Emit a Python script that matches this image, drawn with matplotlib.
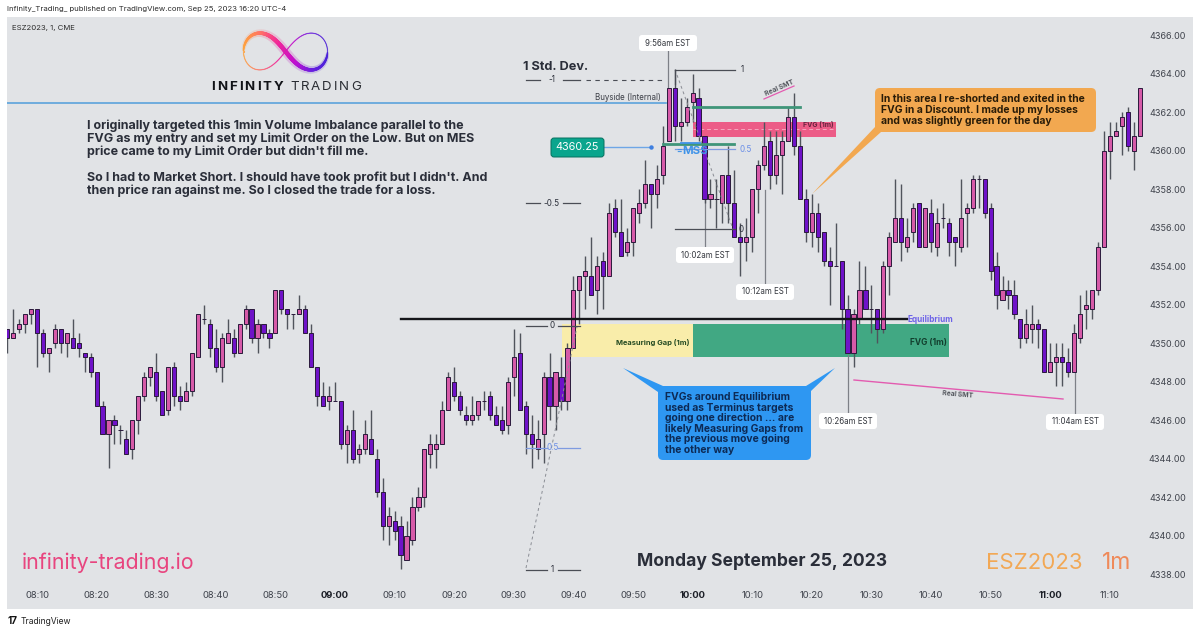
import numpy as np
import matplotlib
matplotlib.use("Agg")
import matplotlib.pyplot as plt
from matplotlib.transforms import Affine2D
from matplotlib.patches import FancyBboxPatch, Polygon, Rectangle
from matplotlib.collections import LineCollection
from matplotlib.colors import LinearSegmentedColormap

plt.rcParams['font.family'] = ['Inter', 'Liberation Sans', 'DejaVu Sans']

# 1-minute ESZ2023 candles, 08:05 to 11:15
opens = [
 4350.75,4350.25,4350.75,4351,4351.5,4351.75,4350.5,4349.5,4350,4350.75,
 4350,4350.25,4350,4349.5,4349.25,4348.5,4346.75,4345.25,4346,4345.5,
 4345,4344.5,4346,4347.25,4348.25,4348.5,4347.5,4346.5,4348.75,4347.25,
 4347,4347.5,4349.25,4351.25,4351,4349.75,4348.75,4350,4350.25,4349.5,
 4351,4351.75,4350.25,4351,4350.5,4350.5,4352.75,4351.75,4351.5,4351.5,
 4351.75,4350.5,4348.75,4347.25,4347,4347,4347,4344.75,4345.5,4344.25,
 4344.5,4345,4344,4342.25,4340.5,4340.75,4340.5,4338.75,4339.75,4341.5,
 4342,4344.25,4344.5,4344.75,4346.5,4348,4347.25,4346.25,4346,4346.25,
 4347,4347.25,4346.25,4346,4345.75,4348.25,4349.5,4346.75,4345.25,4344.5,
 4345.25,4348.25,4346.75,4348.25,4347,4349.75,4352.75,4353.5,4353.5,4352.75,
 4354.25,4353.5,4357,4355.75,4354.75,4355.25,4356.75,4357.25,4358.25,4357.75,
 4358.75,4360.5,4363.25,4361.25,4361.5,4362.5,4362.75,4360.75,4357.5,4357.5,
 4357.25,4358.75,4357.25,4355.5,4355.25,4355.5,4358,4359.25,4360.5,4358.75,
 4359.75,4360.5,4361.75,4360.25,4357.5,4355.75,4356.75,4355.75,4354.25,4354,
 4354.25,4351.75,4349.5,4351.25,4352.75,4351.75,4351.75,4350.75,4354,4355.25,
 4356.5,4355,4355.75,4357.25,4355,4356.75,4355,4356.5,4356.25,4355.5,
 4355,4356.75,4357,4358.5,4358.5,4357,4354,4352.25,4352.75,4352.5,
 4351.25,4350.25,4350.75,4351,4350.75,4348.5,4349,4349.25,4349,4348.5,
 4350.25,4351.75,4351.75,4352.75,4355,4360,4360.75,4361.25,4362,4360,4360.75]
highs = [
 4350.75,4351.75,4351.25,4351.5,4351.75,4351.75,4350.75,4349.75,4351,4350.75,
 4350.5,4351.25,4350.5,4349.5,4349.5,4348.5,4347,4346,4346.25,4345.75,
 4345.5,4346,4347.25,4348.5,4348.75,4349.5,4347.5,4348.75,4349,4347.75,
 4348,4349.5,4351.5,4352,4351.25,4350.75,4350.5,4351.25,4350.75,4351,
 4352,4351.75,4351.25,4351,4350.75,4352.75,4352.75,4351.75,4351.5,4352.5,
 4352,4351,4348.75,4348,4347.75,4348,4347,4345.75,4346.5,4344.75,
 4346,4346.5,4344.5,4343,4341.5,4341.25,4341,4340.75,4342,4342.5,
 4344.5,4345.25,4345.25,4347,4348.5,4348.75,4347.5,4346.75,4347.25,4347,
 4347.5,4347.5,4346.75,4346.75,4348.25,4350.75,4350.5,4347,4346.25,4346,
 4348.5,4349.5,4348.5,4349.25,4350,4353.5,4353.5,4354.5,4355.5,4354.5,
 4354.75,4357.25,4357.5,4357.5,4356,4357,4358,4359.5,4358.25,4359.25,
 4361.25,4363.25,4364.25,4362.75,4362.75,4364,4363.25,4360.75,4358.5,4358.5,
 4358.75,4360.25,4359,4356.25,4356.5,4358,4359.5,4361.5,4361,4361,
 4361,4362.25,4363,4361,4358,4357.75,4357.25,4355.75,4355,4356.25,
 4354.25,4352.5,4351.75,4354.25,4354,4353,4351.75,4354.25,4355.75,4358.5,
 4358.25,4356.5,4357.25,4357.25,4357,4357.5,4357,4357.25,4356.5,4355.5,
 4358.5,4357.25,4358.75,4358.75,4358.5,4357.25,4354.75,4353.5,4353.25,4353.25,
 4351.25,4351.75,4352,4351.25,4350.75,4350,4350,4350,4349.75,4351,
 4352.5,4352.75,4352.75,4355.25,4361,4361.5,4361.5,4362,4362.25,4361.5,4363.25]
lows = [
 4349.5,4350.25,4350.5,4350.5,4351,4348.75,4349.25,4348.5,4349.75,4349.5,
 4349.25,4349.75,4349.25,4348.5,4348.25,4346.75,4345.25,4343.5,4344.75,4344.75,
 4344.25,4344,4345.25,4347,4347.75,4347,4346.25,4346.25,4346.75,4346.5,
 4347,4347.25,4349.25,4351,4349.25,4348.5,4348,4350,4349.25,4349.5,
 4350.75,4350,4349.5,4350.25,4349.75,4350.5,4351.5,4350.75,4350.75,4351.5,
 4350.5,4348.75,4346.75,4346.75,4346.5,4347,4344.5,4343.75,4343.75,4343.75,
 4344.25,4344.25,4342,4339.75,4339.5,4339.75,4338.25,4338.75,4339.5,4341.25,
 4341.5,4343.5,4343.5,4344.75,4346.5,4347,4346.25,4345.75,4345.75,4346,
 4346.5,4346,4345.75,4345.25,4345.25,4347.25,4346.5,4344.25,4343.5,4344,
 4343.75,4346,4345.5,4346.5,4346.5,4349.75,4351,4351.75,4352.5,4351.5,
 4351.75,4353.5,4355.5,4354.5,4354.5,4354.5,4356.25,4357,4356,4357,
 4358.25,4360.5,4360.5,4360.5,4361.25,4361.5,4360.5,4357.25,4357,4356,
 4356.25,4356.25,4355.5,4353.5,4354.25,4354.75,4356.75,4359,4358,4358.25,
 4357.75,4360.5,4359.75,4357.5,4355.25,4355,4354.75,4354,4352,4354,
 4350.75,4349.5,4348.75,4351,4351.75,4350.5,4350,4350.5,4352.5,4355.25,
 4354.25,4354.75,4355.25,4355,4355,4354.75,4354.5,4356,4354.5,4354,
 4354.75,4355,4356.75,4357,4356.5,4353.25,4351.75,4352.25,4351.75,4351.25,
 4349.75,4350,4350,4349.75,4348.5,4348.5,4347.75,4347.75,4348.25,4348.5,
 4350,4350.75,4351.25,4352.5,4355,4358.5,4360.75,4359.75,4360,4359,4360.75]
closes = [
 4350.25,4350.5,4351,4351.5,4351.75,4350.5,4349.5,4349.75,4350.75,4350,
 4350.5,4349.75,4349.75,4349.25,4348.5,4346.75,4345.25,4346,4345.75,4345.5,
 4344.25,4346,4347.25,4348.25,4348.75,4347.25,4346.25,4348.75,4347.25,4347,
 4347.5,4349.5,4351.5,4351.25,4349.75,4348.75,4350.25,4350.5,4349.5,4351,
 4351.75,4350.25,4351,4350.5,4350.25,4352.75,4351.75,4351.5,4351.5,4351.75,
 4350.5,4348.75,4347.25,4346.75,4347.25,4347,4344.75,4345.5,4344,4344.5,
 4345.25,4344.25,4342.25,4340.5,4341,4340.25,4339,4340,4341.5,4342,
 4344.5,4344.75,4344.75,4346.5,4348.25,4347.25,4346.5,4346,4346.25,4347,
 4347,4346.25,4345.75,4345.5,4348,4349.25,4346.5,4345.25,4344.75,4345,
 4348.25,4346.75,4348.5,4347,4349.75,4352.75,4353.5,4353.75,4352.5,4354,
 4353.5,4356.75,4355.75,4354.5,4355.25,4357,4357.25,4358.25,4357.75,4358.5,
 4360.25,4363.25,4361.25,4361.5,4362.25,4363,4360.75,4357.5,4357.75,4357.5,
 4358.75,4357.25,4355.5,4355.25,4355.5,4358,4359.25,4360.25,4358.75,4359.75,
 4360.5,4361.75,4360.25,4357.5,4355.75,4356.75,4355.5,4354.25,4354,4354,
 4351.75,4349.5,4351.5,4352.75,4351.75,4351.75,4350.75,4354,4355.5,4356.5,
 4355.25,4355.5,4357,4355,4357,4355.25,4356.25,4356.5,4355.25,4355.25,
 4356.5,4357,4358.5,4358.5,4356.75,4353.75,4352.5,4352.75,4352.5,4351.5,
 4350.25,4351,4351,4350.75,4348.5,4349,4349.25,4349,4348.5,4350.5,
 4351.5,4352,4352.75,4355,4360,4360.75,4361,4361.75,4360.25,4360.75,4363.25]
assert len(opens) == len(highs) == len(lows) == len(closes) == 191

time_labels = ['08:10','08:20','08:30','08:40','08:50','09:00','09:10','09:20','09:30','09:40',
               '09:50','10:00','10:10','10:20','10:30','10:40','10:50','11:00','11:10']
bold_times = {'09:00', '10:00', '11:00'}
price_ticks = list(range(4338, 4368, 2))

W, H = 1200, 632
fig = plt.figure(figsize=(W/100, H/100), dpi=100, facecolor='white')
L, R, T, B = 7, 1193, 17, 609
ax = fig.add_axes([L/W, 1-B/H, (R-L)/W, (B-T)/H], facecolor='#e1e3e6')
pix = Affine2D().scale(1, -1).translate(0, H)   # reference-pixel coordinates

PX0, PXS = 7.2, 5.96
YPX, YS = 35.0, 19.25
ax.set_xlim((L-PX0)/PXS, (R-PX0)/PXS)
ax.set_ylim(4366-(B-YPX)/YS, 4366+(YPX-T)/YS)
ax.autoscale(False)
for s in ax.spines.values():
    s.set_visible(False)

# axes
ax.yaxis.tick_right()
ax.set_yticks(price_ticks, [f'{p:.2f}' for p in price_ticks], ha='right', color='#3f434c', fontsize=6.5)
ax.tick_params(axis='y', length=0, pad=-5.2)
xt = [5+10*k for k in range(len(time_labels))]
ax.set_xticks(xt, time_labels, fontsize=6.8, color='#3f434c')
ax.tick_params(axis='x', length=0, pad=-13.2)
for lab, name in zip(ax.get_xticklabels(), time_labels):
    if name in bold_times:
        lab.set_fontweight('bold')
        lab.set_color('#1c1f27')

# zones and levels (price axis)
ax.fill_between([93.1, 115], 4349.25, 4351, color='#f9edaa', lw=0, zorder=1)
ax.fill_between([115, 158], 4349.25, 4351, color='#41a883', lw=0, zorder=1)
ax.fill_between([115, 139], 4360.7, 4361.5, color='#ec5c87', lw=0, zorder=1)
ax.plot([115, 139], [4361.1, 4361.1], color='#f6a5bd', lw=0.7, ls=(0, (4, 3)), zorder=1.5)
ax.plot([0, 110.5], [4362.45, 4362.45], color='#5ba3dc', lw=1.2, zorder=2)
ax.plot([66, 151], [4351.25, 4351.25], color='#15161a', lw=1.7, zorder=4)
ax.plot([115, 133], [4362.25, 4362.25], color='#3f9579', lw=2, zorder=4)
ax.plot([110, 122], [4360.35, 4360.35], color='#3f9579', lw=2, zorder=4)

# candles
x = np.arange(len(opens))
o, h, l, c = map(np.array, (opens, highs, lows, closes))
up = c >= o
ax.vlines(x, l, h, color='#50545c', lw=1.0, zorder=3)
ax.bar(x, np.abs(c-o), bottom=np.minimum(o, c), width=0.7,
       color=np.where(up, '#d65aa8', '#6f12c8'), edgecolor='#2a1a3c', lw=0.7, zorder=3.2)

# ---- annotation helpers, reference-pixel coordinates ----
def txt(px, py, s, fs=7, color='#2a2e39', weight='normal', ha='left', va='center', z=8, **kw):
    return ax.text(px, py, s, transform=pix, fontsize=fs, color=color, fontweight=weight,
                   ha=ha, va=va, zorder=z, clip_on=False, **kw)

def seg(x0, y0, x1, y1, color='#444', lw=1.0, ls='-', z=4):
    ax.plot([x0, x1], [y0, y1], transform=pix, color=color, lw=lw, ls=ls, zorder=z, clip_on=False)

def box(x0, y0, x1, y1, fc, r=4, ec='none', lw=0, z=6):
    p = FancyBboxPatch((x0, y0), x1-x0, y1-y0, boxstyle=f'round,pad=0,rounding_size={r}',
                       fc=fc, ec=ec, lw=lw, transform=pix, zorder=z, clip_on=False)
    ax.add_patch(p)

def tri(pts, fc, z=6):
    ax.add_patch(Polygon(pts, closed=True, fc=fc, ec='none', transform=pix, zorder=z, clip_on=False))

# header and footer
txt(7, 9.5, 'Infinity_Trading_ published on TradingView.com, Sep 25, 2023 16:20 UTC-4', fs=5.6, color='#2b2b2b')
txt(12, 28, 'ESZ2023, 1, CME', fs=5.6, color='#2b2b2b')
txt(7, 620.5, '17', fs=7, weight='bold', color='#111111')
txt(21, 621, 'TradingView', fs=6.2, color='#222222')

# logo
t = np.linspace(0, 2*np.pi, 400)
lx = 285.5 + 42*np.cos(t)/(1+np.sin(t)**2)
ly = 51.5 + 52*np.sin(t)*np.cos(t)/(1+np.sin(t)**2)
pts = np.column_stack([lx, ly]).reshape(-1, 1, 2)
segs = np.concatenate([pts[:-1], pts[1:]], axis=1)
cmap = LinearSegmentedColormap.from_list('logo', ['#ffa23d', '#ff6f6a', '#f2269a', '#c00fd0', '#6a1fe0', '#4a22d8'])
cval = (lx[:-1]-lx.min())/(lx.max()-lx.min())
w = 0.5 + 2.6*np.clip(np.sin(t[:-1]), 0, 1)**0.5
lc = LineCollection(segs, array=cval, cmap=cmap, linewidths=w, transform=pix, zorder=5, clip_on=False, capstyle='round')
ax.add_collection(lc, autolim=False)
glow = LineCollection(segs, array=cval, cmap=cmap, linewidths=w*2.2, alpha=0.22, transform=pix, zorder=4.9, clip_on=False)
ax.add_collection(glow, autolim=False)

def spaced(px, py, s, pitch_extra, fs, weight, color):
    r = fig.canvas.get_renderer()
    cur = px
    for ch in s:
        tx = txt(cur, py, ch, fs=fs, weight=weight, color=color)
        cur += tx.get_window_extent(r).width + pitch_extra

spaced(211, 87, 'INFINITY', 2.0, 9.6, 'bold', '#111318')
spaced(290, 87, 'TRADING', 1.9, 9.6, 'normal', '#2a2d33')

# main note
note = ["I originally targeted this 1min Volume Imbalance parallel to the",
        "FVG as my entry and set my Limit Order on the Low. But on MES",
        "price came to my Limit Order but didn't fill me.",
        "",
        "So I had to Market Short. I should have took profit but I didn't. And",
        "then price ran against me. So I closed the trade for a loss."]
for i, s in enumerate(note):
    txt(87, 125.5+13.1*i, s, fs=9.0, weight='bold', color='#2a2e39')

# fib levels
txt(523, 67, '1 Std. Dev.', fs=9.2, weight='bold', color='#2a2e39')
fib_gray = '#4a4d55'
for y, lab in [(80, '-1'), (203, '-0.5'), (325.5, '0'), (569.5, '1')]:
    a = 547 if lab in ('0', '1') else 540
    b = 558 if lab in ('0', '1') else 563
    seg(526, y, a, y, fib_gray, 0.9)
    seg(b, y, 580, y, fib_gray, 0.9)
    txt((a+b)/2, y, lab, fs=5.8, ha='center', color='#2a2e39')
seg(586, 80, 665, 80, fib_gray, 0.8, ls=(0, (4, 4)))
seg(526, 448, 547, 448, '#7f9be0', 0.9)
seg(558, 448, 580, 448, '#7f9be0', 0.9)
txt(552.5, 448, '0.5', fs=5.8, ha='center', color='#6a8ee6')
seg(526, 568, 577, 327, '#8a8d94', 0.7, ls=(0, (3, 3)), z=3.5)

seg(675, 70, 735, 70, fib_gray, 0.9)
seg(675, 70, 675, 84, fib_gray, 0.9)
txt(742, 70, '1', fs=5.8, ha='center', color='#2a2e39')
seg(675, 149, 735, 149, '#7f9be0', 0.9)
txt(746, 150, '0.5', fs=5.8, ha='center', color='#6a8ee6')
seg(675, 229, 735, 229, fib_gray, 0.9)
txt(741, 229, '0', fs=5.8, ha='center', color='#2a2e39')
seg(677, 75, 733, 229, '#8a8d94', 0.7, ls=(0, (3, 3)), z=3.5)

# order box
seg(604, 147, 651, 147, '#6ea6e6', 1.0)
ax.plot([651], [147], 'o', ms=2.2, color='#3f7fe0', transform=pix, zorder=5)
box(551, 138, 604, 157, '#0aa58d', r=3, ec='#06705f', lw=0.7)
txt(577.5, 147.5, '4360.25', fs=7.8, color='white', ha='center', z=9)
txt(595, 98, 'Buyside (Internal)', fs=5.7, color='#3a3d45')
txt(682, 151, 'MSS', fs=8.2, weight='bold', color='#3f93e8', z=8)
txt(676, 151, '=', fs=6, weight='bold', color='#3f93e8', z=8)
seg(681, 142.5, 700, 142.5, '#3f93e8', 1.3)

# SMT
seg(764, 99, 794, 86, '#e35bb0', 0.9)
txt(779, 88, 'Real SMT', fs=4.9, color='#55585f', ha='center', rotation=24, rotation_mode='anchor', weight='bold')
seg(854, 380, 1063, 399, '#e35bb0', 1.0)
txt(958, 394, 'Real SMT', fs=4.9, color='#55585f', ha='center', rotation=-5, rotation_mode='anchor', weight='bold')

# zone labels
txt(616, 342.5, 'Measuring Gap (1m)', fs=5.4, weight='bold', color='#244a22', z=5)
txt(910, 342.5, 'FVG (1m)', fs=6.0, weight='bold', color='#123f2e', z=5)
txt(803, 125, 'FVG (1m)', fs=5.0, weight='bold', color='#6a2440', z=5)
txt(908, 319, 'Equilibrium', fs=5.9, weight='bold', color='#6d63e8', z=5)

# time labels
for cx, cy, s, y_from in [(668, 43, '9:56am EST', 90), (705, 255, '10:02am EST', 200),
                          (765, 292, '10:12am EST', 190), (848, 421, '10:26am EST', 355),
                          (1075, 422, '11:04am EST', 372)]:
    seg(cx, y_from, cx, cy, '#7d8087', 0.9, z=2.5)
    box(cx-29, cy-8, cx+29, cy+8, 'white', r=3, z=7)
    txt(cx, cy, s, fs=5.7, ha='center', color='#33363d')

# orange call-out
tri([(812, 194), (875, 127), (881, 132)], '#f2a850')
box(875, 88, 1096, 132, '#f2a850', r=5)
for i, s in enumerate(["In this area I re-shorted and exited in the",
                       "FVG in a Discount. I made up my losses",
                       "and was slightly green for the day"]):
    txt(881, 99.5+10.7*i, s, fs=7.45, weight='bold', color='#2a1c08')

# blue call-out
tri([(623, 368), (663, 386), (658, 392)], '#2e97f2')
tri([(835, 368), (806, 386), (811, 391)], '#2e97f2')
box(658, 386, 811, 460, '#2e97f2', r=5)
for i, s in enumerate(["FVGs around Equilibrium", "used as Terminus targets",
                       "going one direction ... are", "likely Measuring Gaps from",
                       "the previous move going", "the other way"]):
    txt(665, 397+10.55*i, s, fs=7.45, weight='bold', color='#0d2a55')

# big footer text
txt(22, 563, 'infinity-trading.io', fs=15.4, color='#e8457f')
txt(637, 562, 'Monday September 25, 2023', fs=12.6, weight='bold', color='#2a2e39')
txt(986, 563, 'ESZ2023', fs=16, color='#f2a855')
txt(1102, 563, '1m', fs=16.5, color='#ef8a5a')

fig.savefig('out.png', dpi=100, facecolor='white')
